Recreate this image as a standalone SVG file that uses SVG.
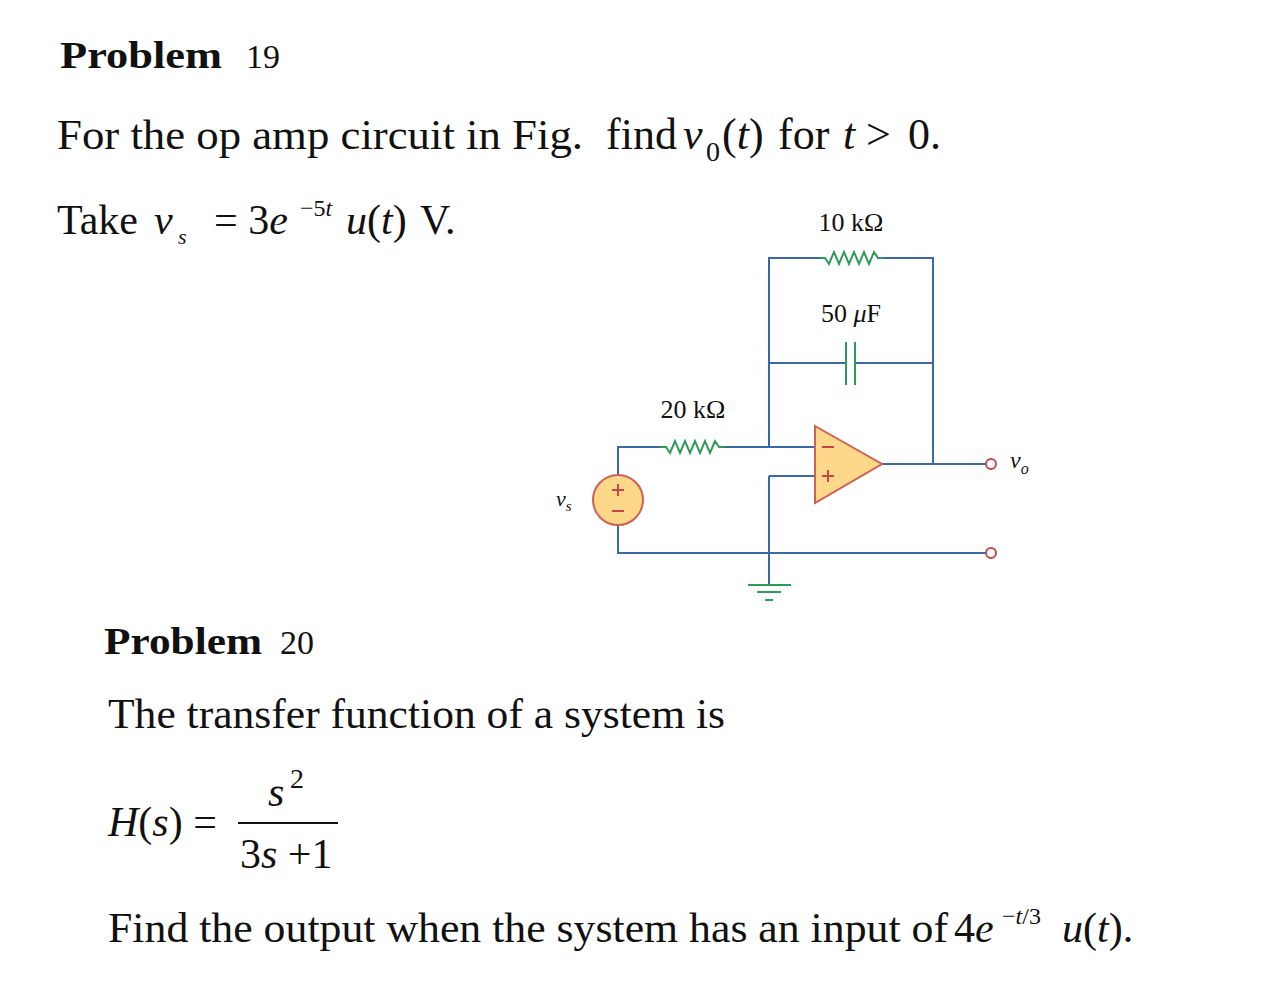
<svg xmlns="http://www.w3.org/2000/svg" width="1286" height="1008" viewBox="0 0 1286 1008">
<style>
.t{font-family:"Liberation Serif",serif;fill:#111}
.w{stroke:#3a68a8;stroke-width:2;fill:none}
.g{stroke:#2e9a5a;stroke-width:2;fill:none}
.r{stroke:#c8454a;stroke-width:2}
</style>
<rect width="1286" height="1008" fill="#fff"/>
<text class="t" x="60" y="68" font-size="38" font-weight="bold" textLength="162" lengthAdjust="spacingAndGlyphs">Problem</text>
<text class="t" x="246" y="68" font-size="34">19</text>
<text class="t" x="57" y="149" font-size="42" textLength="526" lengthAdjust="spacingAndGlyphs">For the op amp circuit in Fig.</text>
<text class="t" y="149" font-size="44"><tspan x="606">find</tspan><tspan x="683" font-style="italic">v</tspan><tspan x="706" font-size="28" dy="12">0</tspan><tspan x="722" dy="-12">(</tspan><tspan font-style="italic">t</tspan><tspan>)</tspan><tspan x="778">for</tspan><tspan x="843" font-style="italic">t</tspan><tspan x="866">&gt;</tspan><tspan x="908">0.</tspan></text>
<text class="t" y="234" font-size="42"><tspan x="57">Take</tspan><tspan x="154" font-style="italic">v</tspan><tspan x="178" font-size="22" font-style="italic" dy="10">s</tspan><tspan x="214" dy="-10">= 3</tspan><tspan font-style="italic">e</tspan><tspan x="300" font-size="24" dy="-18">−5<tspan font-style="italic">t</tspan></tspan><tspan x="346" dy="18" font-style="italic">u</tspan>(<tspan font-style="italic">t</tspan>)<tspan x="420">V.</tspan></text>
<g id="connectors">
<path class="w" d="M618 475V447H661M724 447H815M769 447V258H820M882 258H933V464M769 363H846M855 363H933M882 464H986M769 476H815M769 476V585M618 525V553H986"/>
</g>
<g id="r20"><path class="g" d="M660 447H666L670 453L675 441L680 453L685 441L690 453L695 441L700 453L705 441L710 453L715 441L719 447H725"/><text class="t" x="693" y="418" font-size="26" text-anchor="middle">20 kΩ</text></g>
<g id="r10"><path class="g" d="M819 258H825L829 264L834 252L839 264L844 252L849 264L854 252L859 264L864 252L869 264L874 252L878 258H883"/><text class="t" x="851" y="231" font-size="26" text-anchor="middle">10 kΩ</text></g>
<g id="cap"><path class="g" d="M846 342V385M855 342V385"/><text class="t" x="851" y="322" font-size="26" text-anchor="middle">50 <tspan font-style="italic">μ</tspan>F</text></g>
<g id="opamp"><path d="M815 426L882 464L815 503Z" fill="#fdd88a" stroke="#d06050" stroke-width="2"/><path class="r" d="M822 447h12M822 476h12M828 470v12"/></g>
<g id="vs"><circle cx="618" cy="500" r="25" fill="#fdd88a" stroke="#d06050" stroke-width="2"/><path class="r" d="M612 490h12M618 484v12M612 511h12" stroke-width="3"/><text class="t" x="556" y="506" font-size="22" font-style="italic">v<tspan font-size="15" dy="5">s</tspan></text></g>
<g id="gnd"><path class="g" d="M748 585h43M757 592h24M765 600h8"/></g>
<g id="out"><circle cx="991" cy="464" r="5" fill="#fff" stroke="#c8454a" stroke-width="2"/><circle cx="991" cy="553" r="5" fill="#fff" stroke="#c8454a" stroke-width="2"/><text class="t" x="1010" y="468" font-size="24" font-style="italic">v<tspan font-size="16" dy="6">o</tspan></text></g>
<text class="t" x="104" y="654" font-size="38" font-weight="bold" textLength="158" lengthAdjust="spacingAndGlyphs">Problem</text>
<text class="t" x="280" y="654" font-size="34">20</text>
<text class="t" x="108" y="728" font-size="42" textLength="617" lengthAdjust="spacingAndGlyphs">The transfer function of a system is</text>
<text class="t" x="108" y="836" font-size="42"><tspan font-style="italic">H</tspan>(<tspan font-style="italic">s</tspan>) =</text>
<text class="t" x="268" y="806" font-size="42" font-style="italic">s</text><text class="t" x="290" y="788" font-size="28">2</text>
<line x1="238" y1="823" x2="338" y2="823" stroke="#111" stroke-width="2"/>
<text class="t" x="240" y="868" font-size="42">3<tspan font-style="italic">s</tspan> +1</text>
<text class="t" x="108" y="942" font-size="42" textLength="840" lengthAdjust="spacingAndGlyphs">Find the output when the system has an input of</text>
<text class="t" y="942" font-size="42"><tspan x="954">4</tspan><tspan font-style="italic">e</tspan><tspan x="1002" font-size="24" dy="-18">−<tspan font-style="italic">t</tspan>/3</tspan><tspan x="1062" dy="18" font-style="italic">u</tspan>(<tspan font-style="italic">t</tspan>).</text>
</svg>
